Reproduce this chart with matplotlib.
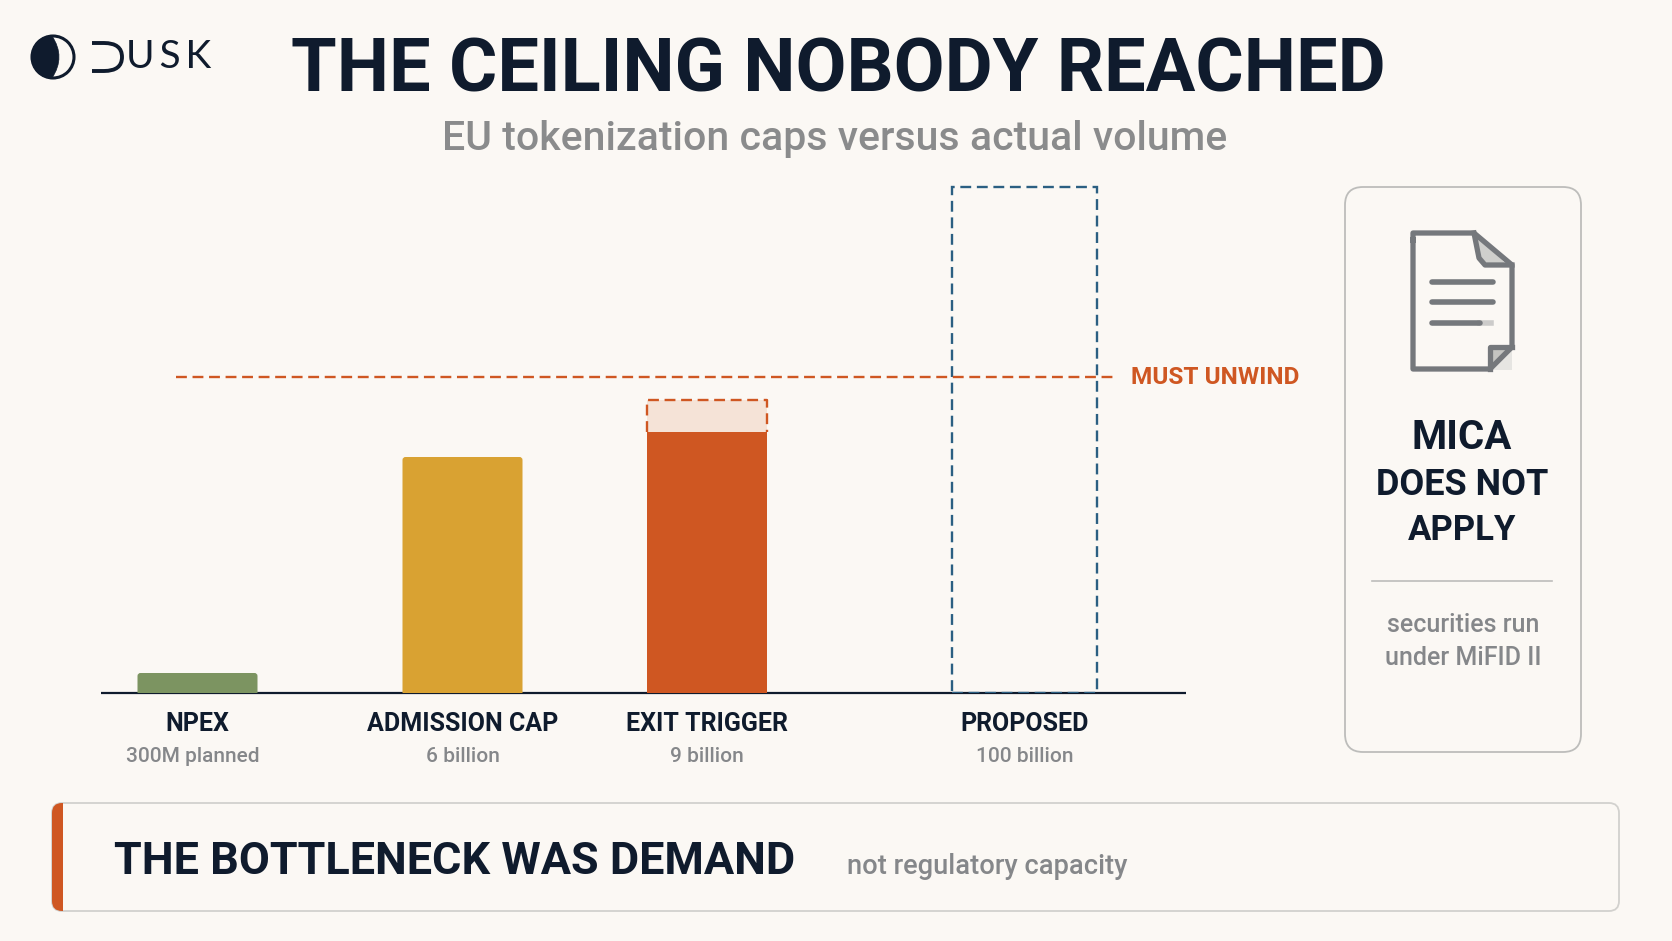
import matplotlib
matplotlib.use("Agg")
import matplotlib.pyplot as plt
from matplotlib.patches import FancyBboxPatch, Rectangle, Circle, PathPatch, Polygon
from matplotlib.path import Path

plt.rcParams['font.family'] = ['Roboto', 'DejaVu Sans']

categories = ["NPEX", "ADMISSION CAP", "EXIT TRIGGER", "PROPOSED"]
sublabels = ["300M planned", "6 billion", "9 billion", "100 billion"]
solid_heights = [20, 236, 261]
exit_cap_height = 293
proposed_height = 506
unwind_level = 316

BG = "#FBF8F4"
NAVY = "#0F1B2D"
ORANGE = "#CF5722"
GOLD = "#D9A232"
GREEN = "#7C9461"
BLUE = "#2B5F82"
PEACH = "#F5E3D7"
GREY = "#85878A"
ICON = "#75787C"
EDGE = "#BDBDBB"

fig = plt.figure(figsize=(16.72, 9.41), dpi=100, facecolor=BG)

# background layer in pixels, for header and the two panels
bg = fig.add_axes([0, 0, 1, 1])
bg.set_xlim(0, 1672)
bg.set_ylim(941, 0)
bg.axis('off')

# logo
bg.add_patch(Circle((53, 57), 21, fc=BG, ec=NAVY, lw=2.2))
moon = Path([(52, 36), (25, 36), (25, 78), (52, 78), (66, 57), (52, 36)],
            [Path.MOVETO, Path.CURVE4, Path.CURVE4, Path.CURVE4, Path.CURVE3, Path.CURVE3])
bg.add_patch(PathPatch(moon, fc=NAVY, ec=NAVY, lw=0.5))
d = Path([(92, 43), (104, 43), (122, 43), (122, 57), (122, 71), (104, 71), (92, 71)],
         [Path.MOVETO, Path.LINETO, Path.CURVE3, Path.CURVE3, Path.CURVE3, Path.CURVE3, Path.LINETO])
bg.add_patch(PathPatch(d, fc='none', ec=NAVY, lw=2.8))
bg.text(126, 57, "U\u2009S\u2009K", fontsize=28, color=NAVY, va='center', ha='left', family='Lato')

bg.text(838, 71, "THE CEILING NOBODY REACHED", fontsize=53.2, fontweight='bold', color=NAVY,
        ha='center', va='center')
bg.text(835, 139, "EU tokenization caps versus actual volume", fontsize=29.5, fontweight='medium',
        color="#8A8B8C", ha='center', va='center')

# right panel
bg.add_patch(FancyBboxPatch((1345, 187), 236, 565, boxstyle="round,pad=0,rounding_size=18",
                            fc='none', ec=EDGE, lw=1.3))
page = [(1413, 240), (1413, 233), (1474, 233), (1512, 265), (1512, 347), (1490, 369), (1413, 369), (1413, 240)]
bg.add_patch(Polygon([(1476, 236), (1506, 264), (1482, 264)], fc="#CFCFCC", ec='none'))
bg.add_patch(Polygon([(1492, 349), (1510, 349), (1492, 367)], fc="#C4C4C1", ec='none'))
bg.add_patch(Polygon([(1512, 349), (1512, 370), (1492, 370)], fc="#E6E5E2", ec='none'))
bg.plot(*zip(*page), color=ICON, lw=3.8, solid_joinstyle='round')
bg.plot([1474, 1479, 1485, 1512], [233, 258, 265, 265], color=ICON, lw=3.8, solid_joinstyle='round')
bg.plot([1490, 1490, 1512], [369, 347, 347], color=ICON, lw=3.8, solid_joinstyle='round')
bg.plot([1432, 1493], [282, 282], color=ICON, lw=4, solid_capstyle='round')
bg.plot([1432, 1493], [302, 302], color=ICON, lw=4, solid_capstyle='round')
bg.plot([1480, 1491], [323, 323], color=ICON, lw=4, alpha=0.35)
bg.plot([1432, 1480], [323, 323], color=ICON, lw=4, solid_capstyle='round')

bg.text(1462, 438, "MICA", fontsize=29, fontweight='bold', color=NAVY, ha='center', va='center')
bg.text(1462, 485, "DOES NOT", fontsize=26, fontweight='bold', color=NAVY, ha='center', va='center')
bg.text(1462, 530, "APPLY", fontsize=25, fontweight='bold', color=NAVY, ha='center', va='center')
bg.plot([1372, 1552], [581, 581], color=EDGE, lw=1.2)
bg.text(1463, 625, "securities run", fontsize=18, fontweight='medium', color=GREY, ha='center', va='center')
bg.text(1463, 658, "under MiFID II", fontsize=18, fontweight='medium', color=GREY, ha='center', va='center')

# bottom banner
bg.add_patch(FancyBboxPatch((52, 803), 1567, 108, boxstyle="round,pad=0,rounding_size=10",
                            fc='none', ec="#D2D1CE", lw=1.3))
accent = FancyBboxPatch((52, 803), 30, 108, boxstyle="round,pad=0,rounding_size=10", fc=ORANGE, ec='none')
bg.add_patch(accent)
accent.set_clip_path(Rectangle((52, 803), 11, 108, transform=bg.transData))
bg.text(114, 862, "THE BOTTLENECK WAS DEMAND", fontsize=32.4, fontweight='bold', color=NAVY, ha='left', va='center')
bg.text(847, 866, "not regulatory capacity", fontsize=19.6, fontweight='medium', color=GREY, ha='left', va='center')

# chart axes, one unit is one pixel
ax = fig.add_axes([101 / 1672, (941 - 693) / 941, 1085 / 1672, 523 / 941])
ax.patch.set_alpha(0)
ax.set_xlim(0, 1085)
ax.set_ylim(0, 523)
for side in ['top', 'left', 'right']:
    ax.spines[side].set_visible(False)
ax.spines['bottom'].set_color(NAVY)
ax.spines['bottom'].set_linewidth(1.6)
ax.spines['bottom'].set_capstyle('butt')
ax.set_yticks([])

positions = [96.5, 361.5, 605.5, 923.5]
dash = (0, (4.6, 2.4))

# pale part above the exit bar, dashed on three sides only
left, right = positions[2] - 60, positions[2] + 60
ax.bar(positions[2], exit_cap_height - solid_heights[2], bottom=solid_heights[2], width=120, color=PEACH, zorder=2)
ax.plot([left, left, right, right], [solid_heights[2], exit_cap_height, exit_cap_height, solid_heights[2]],
        color=ORANGE, lw=1.7, linestyle=dash, zorder=4)

bars = ax.bar(positions[:3], solid_heights, width=120, color=[GREEN, GOLD, ORANGE], zorder=3)
for b in bars[:2]:
    # small rounded top corners on the first two bars
    b.set_visible(False)
    ax.add_patch(FancyBboxPatch((b.get_x(), -8), b.get_width(), b.get_height() + 8,
                                boxstyle="round,pad=0,rounding_size=3", fc=b.get_facecolor(), ec='none', zorder=3))
ax.bar(positions[3], proposed_height, width=145, fill=False, edgecolor=BLUE, lw=1.7, linestyle=dash, zorder=4)
ax.plot([75, 1016], [unwind_level, unwind_level], color=ORANGE, lw=1.7, linestyle=dash, zorder=5)
ax.text(1030, unwind_level - 1, "MUST UNWIND", fontsize=17.6, fontweight='semibold', color=ORANGE,
        ha='left', va='center', clip_on=False)

ax.set_xticks(positions)
ax.set_xticklabels(categories, fontsize=18, fontweight='semibold', color=NAVY)
ax.tick_params(axis='x', length=0, pad=14)
sub_x = [92, 361.5, 605.5, 923.5]
for x, s in zip(sub_x, sublabels):
    ax.text(x, -63, s, fontsize=15, fontweight='medium', color=GREY, ha='center', va='center', clip_on=False)

fig.savefig("out.png", dpi=100, facecolor=BG)
